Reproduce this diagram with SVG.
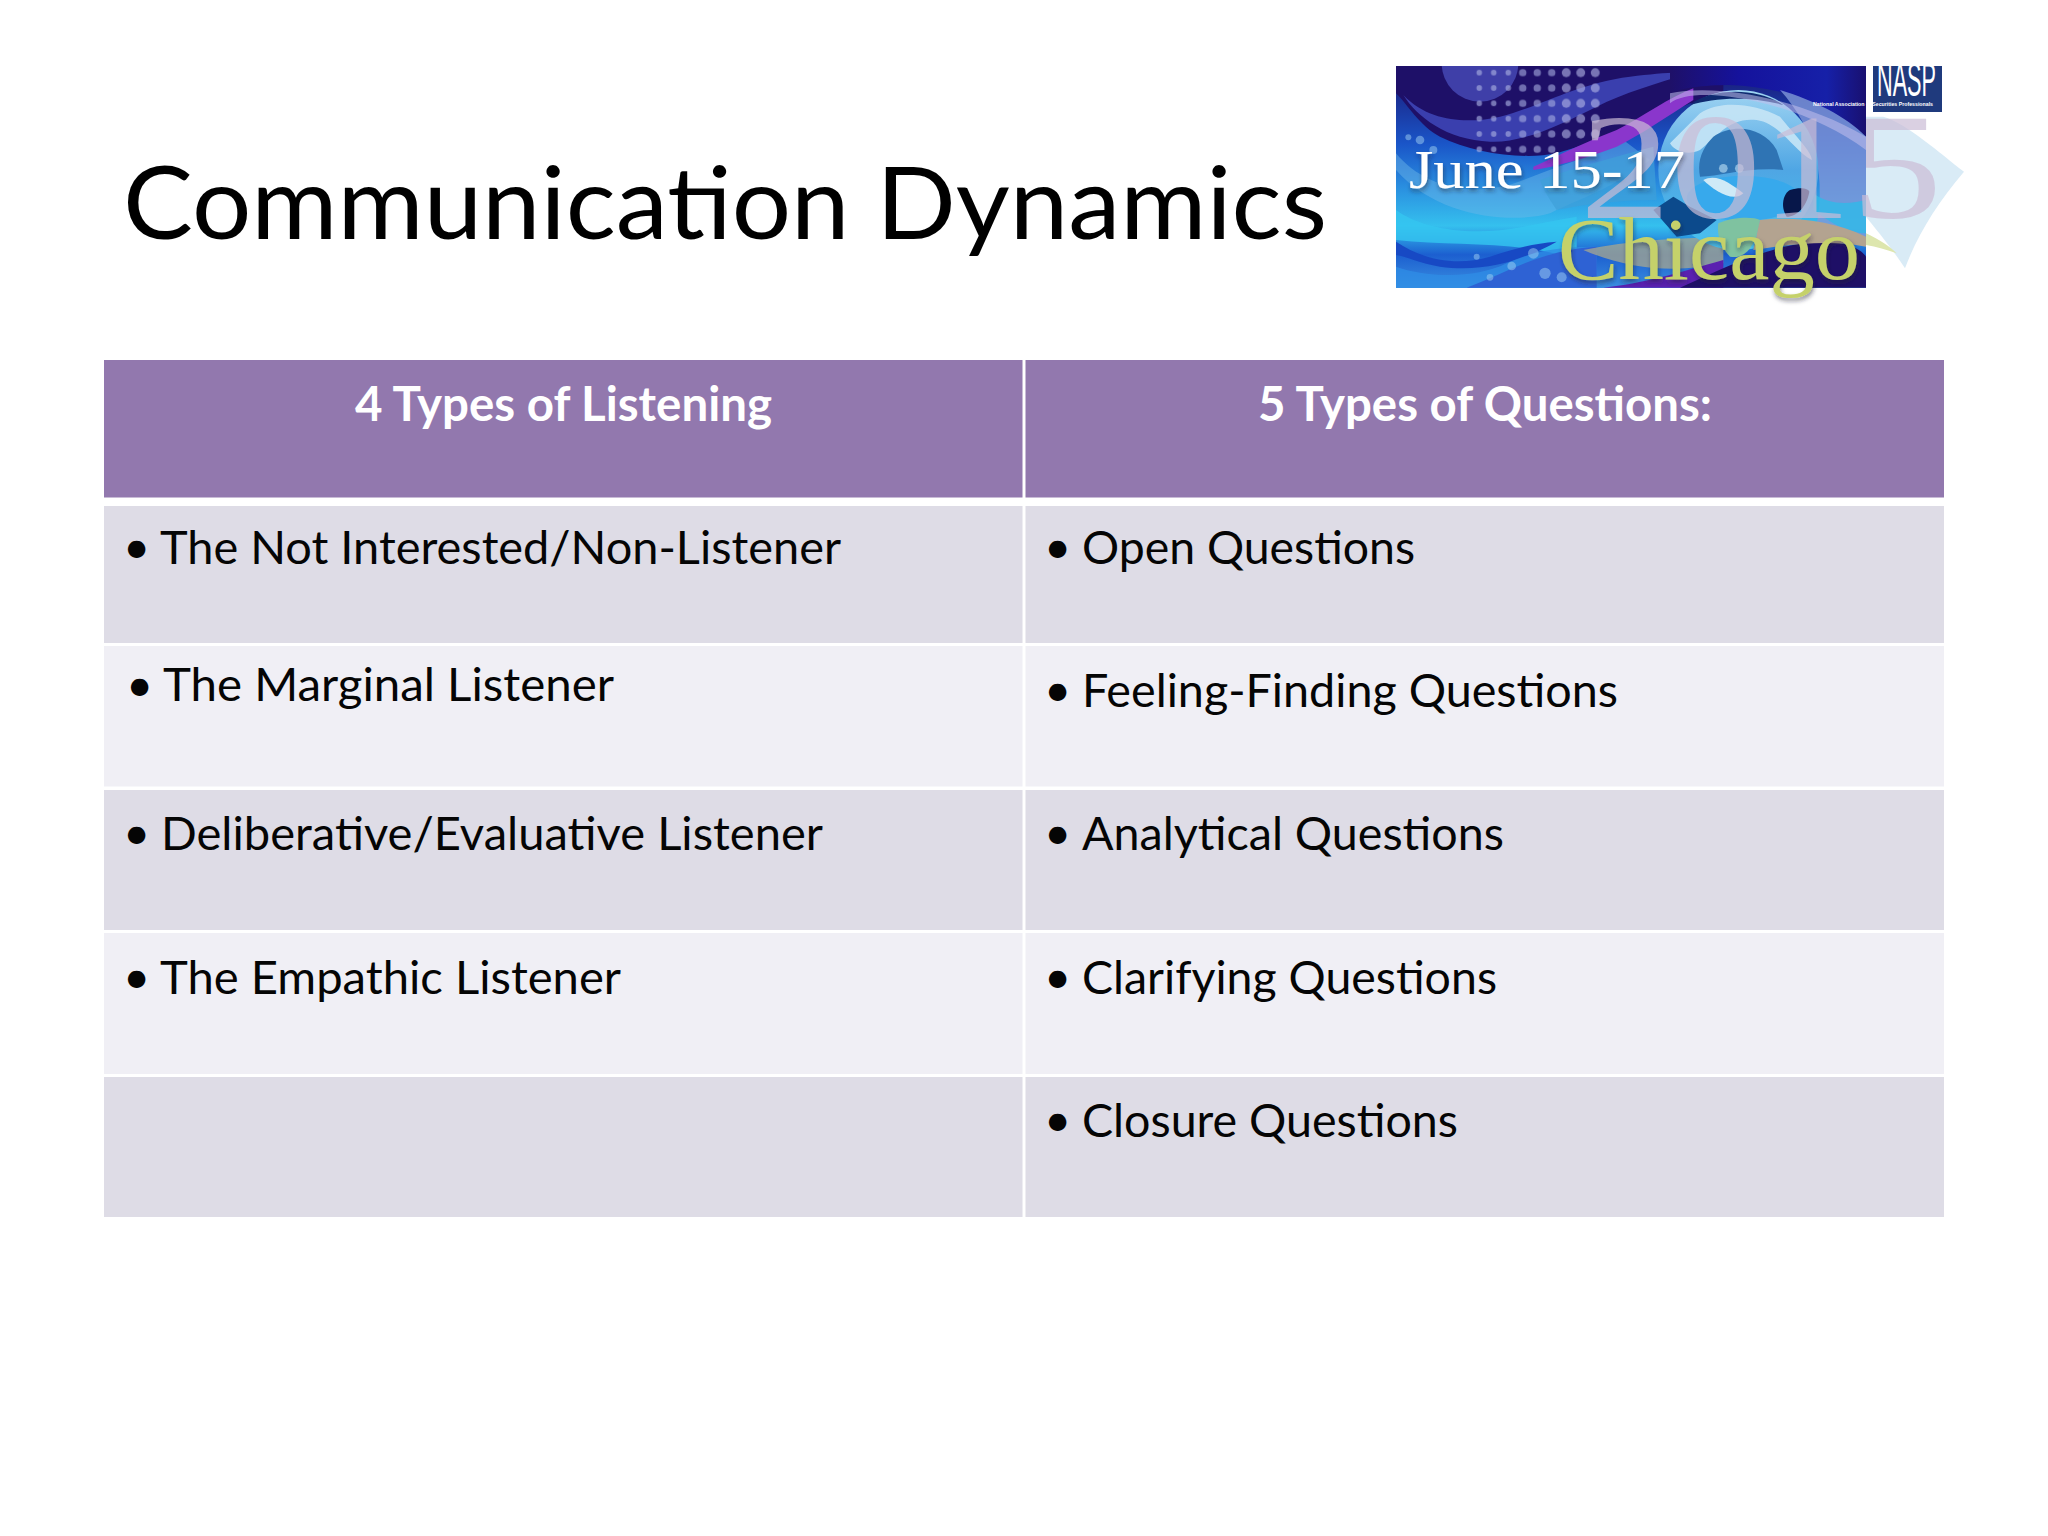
<svg xmlns="http://www.w3.org/2000/svg" width="2048" height="1536" viewBox="0 0 2048 1536">
<style>
.t{font-family:"Lato","Carlito","Liberation Sans",sans-serif}
.b{font-size:47px;fill:#050505}
.d{font-size:47px;fill:#050505}
.h{font-size:47px;font-weight:700;fill:#fff;text-anchor:middle}
.s{font-family:"Liberation Serif",serif}
.head{fill:#9278ae}.o{fill:#dedce6}.e{fill:#f0eff5}
</style>
<defs>
<linearGradient id="bg" x1="0" y1="0" x2="0" y2="1"><stop offset="0" stop-color="#1a1470"/><stop offset=".35" stop-color="#1a55c8"/><stop offset=".55" stop-color="#2a90e0"/><stop offset=".72" stop-color="#35c0ee"/><stop offset=".85" stop-color="#1c5fd0"/><stop offset="1" stop-color="#3a8fe0"/></linearGradient>
<linearGradient id="top" x1="0" y1="0" x2="1" y2="0"><stop offset="0" stop-color="#1e1068"/><stop offset=".35" stop-color="#15129c"/><stop offset=".8" stop-color="#1620a8"/><stop offset="1" stop-color="#191070"/></linearGradient>
<linearGradient id="globe" x1="0" y1="0" x2="0" y2="1"><stop offset="0" stop-color="#9fd4f2"/><stop offset=".5" stop-color="#4fa6e4"/><stop offset="1" stop-color="#49c2ee"/></linearGradient>
<clipPath id="pic"><rect x="1396" y="66" width="470" height="222"/></clipPath>
<clipPath id="nasp"><rect x="1873" y="66" width="69" height="46"/></clipPath>
<filter id="sh" x="-10%" y="-20%" width="120%" height="150%"><feDropShadow dx="1" dy="3" stdDeviation="2" flood-color="#223" flood-opacity=".5"/></filter>
<pattern id="d1" x="1472" y="65" width="14.500" height="15.330" patternUnits="userSpaceOnUse"><circle cx="7.250" cy="7.670" r="2.800" fill="#a6addf" fill-opacity=".65"/></pattern>
<pattern id="d2" x="1472" y="65" width="14.500" height="15.330" patternUnits="userSpaceOnUse"><circle cx="7.250" cy="7.670" r="3.700" fill="#a6addf" fill-opacity=".6"/></pattern>
<pattern id="d3" x="1472" y="65" width="14.500" height="15.330" patternUnits="userSpaceOnUse"><circle cx="7.250" cy="7.670" r="4.500" fill="#b4b8e6" fill-opacity=".6"/></pattern>
</defs>
<rect width="2048" height="1536" fill="#fff"/>
<text id="title" class="t" x="123" y="239" font-size="100" fill="#000" textLength="1204" lengthAdjust="spacingAndGlyphs">Communication Dynamics</text>
<g id="logo">
<g transform="translate(1680,60) scale(.33333)">
<path d="M558,170 L610,170 C680,190 780,280 852,335 C770,430 710,530 675,625 C640,570 590,510 558,470Z" fill="#d9ebf6"/>
<path d="M558,520 C600,540 630,560 650,580 620,570 590,560 558,555Z" fill="#dde6ae"/>
</g>
<g clip-path="url(#pic)">
<rect x="1396" y="66" width="470" height="222" fill="url(#bg)"/>
<g transform="translate(1390,60) scale(.33333)">
<path d="M18,280 C100,380 250,420 400,360 500,320 600,290 700,240 L780,300 C680,380 560,420 480,460 380,490 150,480 18,330Z" fill="#6fb8e8" fill-opacity=".45"/>
<path d="M18,450 C100,510 250,530 400,500 450,490 500,480 560,470 V600 C400,540 200,560 18,540Z" fill="#35c6f0" fill-opacity=".8"/>
<path d="M18,545 C100,600 200,620 300,590 380,565 430,550 500,545 C420,590 300,640 150,620 90,610 50,590 18,585Z" fill="#1749c4"/>
<path d="M18,620 C100,650 250,660 350,610 420,580 480,560 620,560 V683 H18Z" fill="#2f8ee6" fill-opacity=".75"/>
<path d="M230,683 C350,640 450,570 620,560 V683Z" fill="#2e62d4"/>
<path d="M18,18 H1000 V140 L900,130 C750,200 600,250 500,280 400,300 250,280 150,230 90,200 50,130 18,100Z" fill="#1e1068"/>
<path d="M40,105 C120,190 240,190 330,170 450,140 560,70 720,50 800,40 860,35 900,40 C800,70 700,100 620,140 520,190 400,250 300,245 170,240 80,170 40,105Z" fill="#3a3fae"/>
<circle cx="270" cy="10" r="115" fill="#3f3fa8"/>
<path d="M430,320 C520,280 600,240 680,210 760,170 840,110 910,85 L910,120 C830,170 760,220 680,260 600,290 500,320 430,330Z" fill="#8a36cc"/>
<path d="M450,360 C560,320 680,290 790,260 L800,420 C700,420 600,430 500,450 480,420 460,390 450,360Z" fill="#3f9fd8" fill-opacity=".7"/>
<path d="M580,570 C720,540 860,535 1000,530 V610 C860,640 720,630 580,570Z" fill="#a8a88f" fill-opacity=".75"/>
<path d="M640,683 C760,670 860,640 1000,600 V683Z" fill="#5a20b0"/>
<g fill="#9fd0f2" fill-opacity=".5"><circle cx="430" cy="580" r="16"/><circle cx="465" cy="640" r="17"/><circle cx="515" cy="652" r="15"/><circle cx="260" cy="590" r="9"/><circle cx="365" cy="618" r="13"/><circle cx="300" cy="652" r="10"/><circle cx="90" cy="240" r="13"/><circle cx="130" cy="270" r="12"/><circle cx="55" cy="232" r="9"/></g>
</g>
<rect x="1472" y="65" width="43.500" height="92" fill="url(#d1)"/>
<rect x="1515.500" y="65" width="43.500" height="92" fill="url(#d2)"/>
<rect x="1559" y="65" width="43.500" height="76" fill="url(#d3)"/>
<g transform="translate(1680,60) scale(.33333)">
<path d="M-30,18 H558 V230 C450,130 300,80 150,75 70,75 0,85 -30,100Z" fill="url(#top)"/>
<path d="M300,90 C400,120 500,170 558,230 V540 H400 C450,350 400,200 300,90Z" fill="#7f97d8" fill-opacity=".8"/>
<path d="M400,400 C450,440 520,430 558,420 V520 C500,520 440,480 400,450Z" fill="#2fb9e8" fill-opacity=".8"/>
<circle cx="175" cy="330" r="240" fill="url(#globe)"/>
<path d="M30,135 C90,85 230,80 310,135 200,105 100,115 30,135Z" fill="#0f2a70"/>
<path d="M60,160 C120,120 220,130 300,170 340,220 400,280 395,300 340,270 300,190 230,180 150,170 110,230 60,270 20,290 -20,270 -30,250 C0,220 30,190 60,160Z" fill="#c4e4f5" fill-opacity=".92"/>
<path d="M100,230 C160,190 250,200 290,270 L310,330 C200,320 120,350 60,350 50,300 70,260 100,230Z" fill="#2f74b4"/>
<ellipse cx="190" cy="415" rx="170" ry="68" fill="#37a9ec"/>
<path d="M70,360 C110,340 150,370 190,400 160,430 100,390 70,360Z" fill="#cfeaf7"/>
<path d="M-80,450 L-20,410 L30,440 L110,480 L60,520 L-10,530Z" fill="#0c4a8c"/>
<path d="M330,390 C360,380 385,385 388,395 380,440 350,470 320,470 300,440 310,400 330,390Z" fill="#07174a"/>
<path d="M0,683 C100,640 250,560 400,545 480,540 540,560 558,590 V683Z" fill="#1e0f66"/>
<path d="M115,490 C160,470 220,470 240,480 230,550 200,600 150,590 120,560 110,520 115,490Z" fill="#7fc2a0"/>
<path d="M240,480 C340,470 450,480 558,530 V560 C450,540 350,550 220,570Z" fill="#b3a390"/>
<path d="M-30,100 C100,70 350,110 558,230 V270 C450,190 300,130 150,110 70,100 0,105 -30,130Z" fill="#c2bfec" fill-opacity=".55"/>
<g fill="#bfe3f6" fill-opacity=".6"><circle cx="130" cy="325" r="13"/><circle cx="178" cy="325" r="13"/></g>
</g>
</g>
<text class="s" x="1580" y="218" font-size="150" fill="#cbbcd6" fill-opacity=".7" textLength="362" lengthAdjust="spacingAndGlyphs">2015</text>
<rect x="1873" y="66" width="69" height="46" fill="#1f3a7d"/>
<g clip-path="url(#nasp)"><text x="1877" y="96" font-family="Liberation Sans,sans-serif" font-size="48" fill="#fff" textLength="59" lengthAdjust="spacingAndGlyphs">NASP</text></g>
<text x="1813" y="106" font-family="Liberation Sans,sans-serif" font-size="6" font-weight="700" fill="#fff" textLength="120" lengthAdjust="spacingAndGlyphs">National Association of Securities Professionals</text>
<text class="s" x="1409" y="188" font-size="55" fill="#fff" filter="url(#sh)" textLength="276" lengthAdjust="spacingAndGlyphs">June 15-17</text>
<text class="s" x="1558" y="279" font-size="88" fill="#c5d16b" filter="url(#sh)" textLength="302" lengthAdjust="spacingAndGlyphs">Chicago</text>
</g>
<g id="table">
<rect class="head" x="104" y="360" width="918.500" height="137.500"/><rect class="head" x="1025.500" y="360" width="918.500" height="137.500"/>
<rect class="o" x="104" y="506" width="918.500" height="137"/><rect class="o" x="1025.500" y="506" width="918.500" height="137"/>
<rect class="e" x="104" y="646" width="918.500" height="140.500"/><rect class="e" x="1025.500" y="646" width="918.500" height="140.500"/>
<rect class="o" x="104" y="790" width="918.500" height="140"/><rect class="o" x="1025.500" y="790" width="918.500" height="140"/>
<rect class="e" x="104" y="933" width="918.500" height="141"/><rect class="e" x="1025.500" y="933" width="918.500" height="141"/>
<rect class="o" x="104" y="1077" width="918.500" height="140"/><rect class="o" x="1025.500" y="1077" width="918.500" height="140"/>
</g>
<g id="cells" class="t">
<text class="h" x="563.500" y="421" textLength="417" lengthAdjust="spacingAndGlyphs">4 Types of Listening</text>
<text class="h" x="1485" y="421" textLength="454" lengthAdjust="spacingAndGlyphs">5 Types of Questions:</text>
<text class="d" x="123" y="563">•</text><text class="b" x="160" y="564" textLength="681" lengthAdjust="spacingAndGlyphs">The Not Interested/Non-Listener</text>
<text class="d" x="126" y="701">•</text><text class="b" x="163" y="701" textLength="451" lengthAdjust="spacingAndGlyphs">The Marginal Listener</text>
<text class="d" x="123" y="849">•</text><text class="b" x="161" y="850" textLength="662" lengthAdjust="spacingAndGlyphs">Deliberative/Evaluative Listener</text>
<text class="d" x="123" y="993">•</text><text class="b" x="160" y="994" textLength="461" lengthAdjust="spacingAndGlyphs">The Empathic Listener</text>
<text class="d" x="1044" y="563">•</text><text class="b" x="1082" y="564" textLength="333" lengthAdjust="spacingAndGlyphs">Open Questions</text>
<text class="d" x="1044" y="706">•</text><text class="b" x="1082" y="707" textLength="536" lengthAdjust="spacingAndGlyphs">Feeling-Finding Questions</text>
<text class="d" x="1044" y="849">•</text><text class="b" x="1082" y="850" textLength="422" lengthAdjust="spacingAndGlyphs">Analytical Questions</text>
<text class="d" x="1044" y="993">•</text><text class="b" x="1082" y="994" textLength="415" lengthAdjust="spacingAndGlyphs">Clarifying Questions</text>
<text class="d" x="1044" y="1136">•</text><text class="b" x="1082" y="1137" textLength="376" lengthAdjust="spacingAndGlyphs">Closure Questions</text>
</g>
</svg>
